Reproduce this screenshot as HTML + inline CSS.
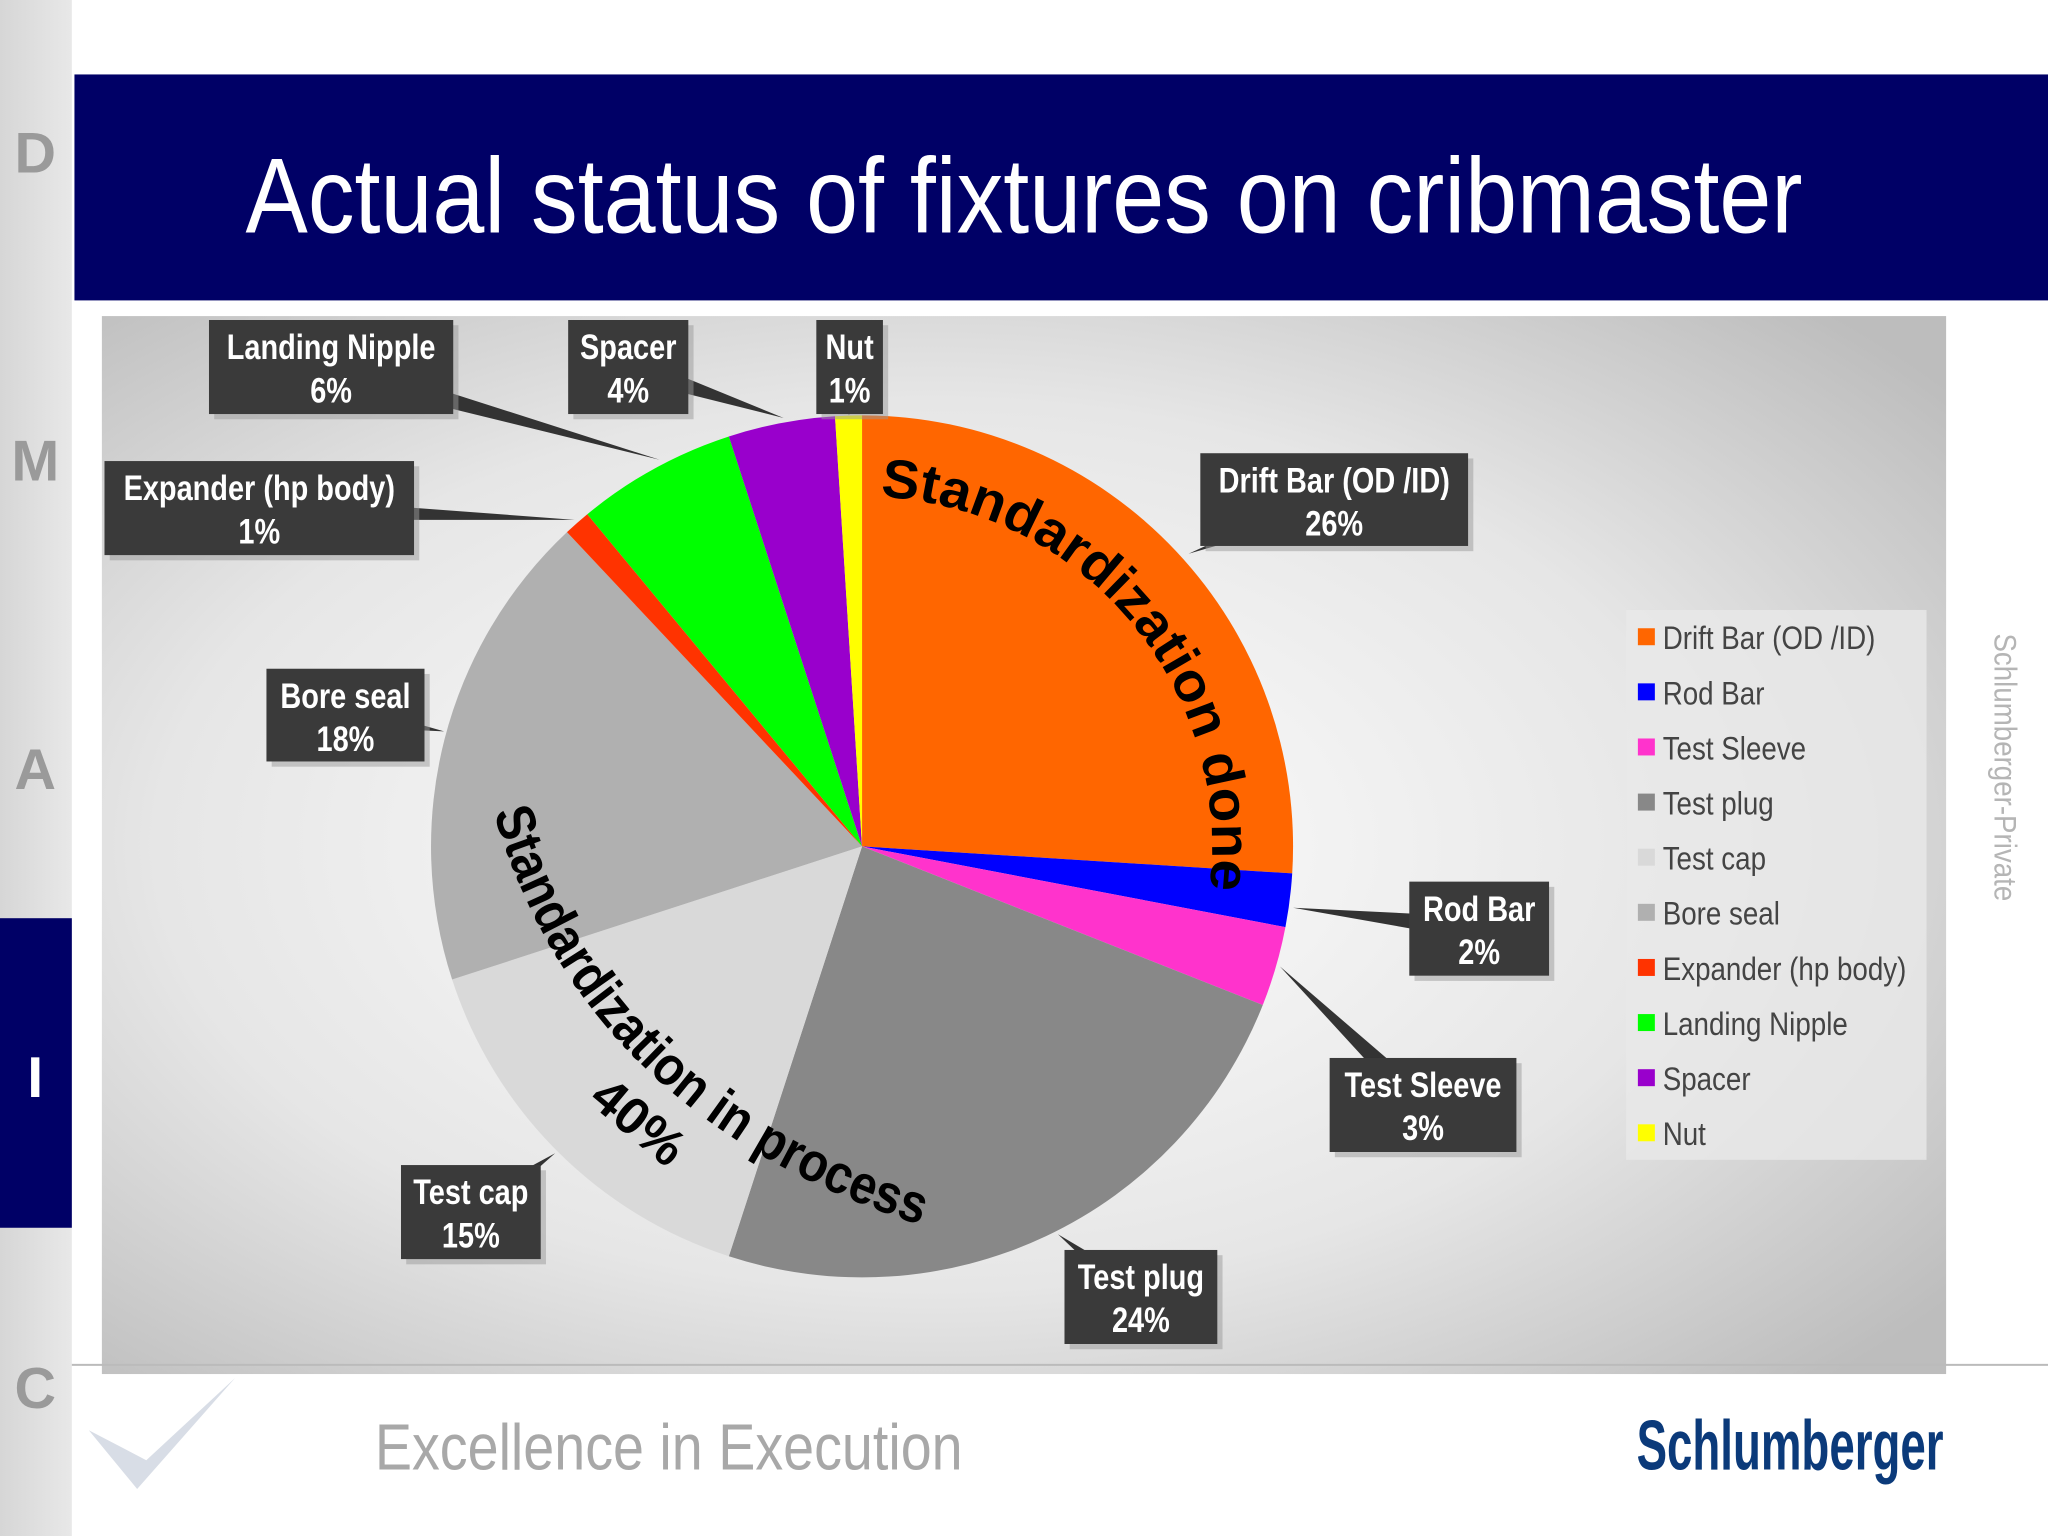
<!DOCTYPE html>
<html><head><meta charset="utf-8"><style>
html,body{margin:0;padding:0;background:#fff;}
svg{display:block;}
text{font-family:"Liberation Sans Narrow","Liberation Sans",sans-serif;}
</style></head><body>
<svg id="chart" width="2048" height="1536" viewBox="0 0 1568 1176" xmlns="http://www.w3.org/2000/svg">
<defs>
<radialGradient id="bg" cx="0.45" cy="0.5" r="0.7">
<stop offset="0" stop-color="#ffffff"/><stop offset="0.6" stop-color="#e6e6e6"/><stop offset="1" stop-color="#bdbdbd"/>
</radialGradient>
<linearGradient id="side" x1="0" x2="1"><stop offset="0" stop-color="#d6d6d6"/><stop offset="1" stop-color="#e8e8e8"/></linearGradient>
</defs>
<rect x="0" y="0" width="1568" height="1176" fill="#fff"/>
<rect x="0" y="0" width="55" height="1176" fill="url(#side)"/>
<rect x="0" y="703" width="55" height="237" fill="#000066"/>
<g font-weight="bold" font-size="44" fill="#9a9a9a" text-anchor="middle">
<text x="27" y="132">D</text><text x="27" y="368">M</text><text x="27" y="604">A</text>
<text x="27" y="840" fill="#fff">I</text><text x="27" y="1078">C</text></g>
<rect x="57" y="57" width="1511" height="173" fill="#000066"/>
<text x="188" y="178" font-size="82" fill="#fff" textLength="1192" lengthAdjust="spacingAndGlyphs">Actual status of fixtures on cribmaster</text>
<rect x="78" y="242" width="1412" height="810" fill="url(#bg)"/>
<g id="pie"></g>
<g id="labels"></g>
<path id="arcDone" d="" fill="none"/>
<path id="arcProc" d="M378,622 C420,765 520,885 728,945" fill="none"/>
<text font-size="42" font-weight="bold" fill="#000" textLength="440" lengthAdjust="spacingAndGlyphs"><textPath href="#arcDone">Standardization done</textPath></text>
<text font-size="42" font-weight="bold" fill="#000" textLength="475" lengthAdjust="spacingAndGlyphs"><textPath href="#arcProc">Standardization in process</textPath></text>
<text x="488" y="872" font-size="40" font-weight="bold" text-anchor="middle" transform="rotate(40 488 860)">40%</text>
<rect x="1245" y="467" width="230" height="421" fill="#e9e9e9" opacity="0.8"/>
<g id="legend"></g>
<text x="0" y="0" font-size="24" fill="#b5b5b5" font-family="Liberation Sans" textLength="205" lengthAdjust="spacingAndGlyphs" transform="translate(1527 485) rotate(90)">Schlumberger-Private</text>
<line x1="55" y1="1045" x2="1568" y2="1045" stroke="#bbb" stroke-width="1.5"/>
<path d="M68 1095 L105 1140 L180 1055 L112 1118 Z" fill="#d8dde6"/>
<text x="287" y="1125" font-size="50" fill="#a8a8a8" textLength="450" lengthAdjust="spacingAndGlyphs">Excellence in Execution</text>
<text x="1253" y="1125" font-size="54" font-weight="bold" fill="#0b3a7a" textLength="235" lengthAdjust="spacingAndGlyphs">Schlumberger</text>
</svg>
<script>
const categories=["Drift Bar (OD /ID)","Rod Bar","Test Sleeve","Test plug","Test cap","Bore seal","Expander (hp body)","Landing Nipple","Spacer","Nut"];
const values=[26,2,3,24,15,18,1,6,4,1];
const colors=["#ff6600","#0000ff","#ff33cc","#888888","#d9d9d9","#b0b0b0","#ff3300","#00ff00","#9900cc","#ffff00"];
const labelText=["Drift Bar (OD /ID)","Rod Bar","Test Sleeve","Test plug","Test cap","Bore seal","Expander (hp body)","Landing Nipple","Spacer","Nut"];
const NS="http://www.w3.org/2000/svg";
const cx=660,cy=648,R=330;
function pt(a,r){return [cx+r*Math.sin(a),cy-r*Math.cos(a)];}
const total=values.reduce((s,v)=>s+v,0);
const pie=document.getElementById('pie');
let acc=0;
values.forEach((v,i)=>{
 const a0=acc/total*2*Math.PI;acc+=v;const a1=acc/total*2*Math.PI;
 const p0=pt(a0,R),p1=pt(a1,R);const large=(a1-a0)>Math.PI?1:0;
 const p=document.createElementNS(NS,'path');
 p.setAttribute('d',`M${cx},${cy} L${p0[0]},${p0[1]} A${R},${R} 0 ${large} 1 ${p1[0]},${p1[1]} Z`);
 p.setAttribute('fill',colors[i]);
 
 
 pie.appendChild(p);
});
(function(){
 const d=Math.PI/180;
 const a=pt(3*d,268),b=pt(100*d,268);
 document.getElementById('arcDone').setAttribute('d',`M${a[0]},${a[1]} A268,268 0 0 1 ${b[0]},${b[1]}`);
})();
const boxes=[[919,347,205,71,910,424],[1079,675,107,72,990,695],[1018,810,143,72,980,740],[815,957,117,72,810,945],[307,892,107,72,425,883],[204,512,121,71,340,560],[80,353,237,72,440,398],[160,245,187,72,505,352],[435,245,92,72,600,320],[625,245,51,72,650,318]];
const lg=document.getElementById('labels');
boxes.forEach((b,i)=>{
 const [x,y,w,h,tx,ty]=b;const mx=x+w/2,my=y+h/2;
 const dx=tx-mx,dy=ty-my;const L=Math.hypot(dx,dy)||1;const nx=-dy/L*9,ny=dx/L*9;
 const leader=document.createElementNS(NS,'polygon');
 leader.setAttribute('points',`${mx+nx},${my+ny} ${mx-nx},${my-ny} ${tx},${ty}`);
 leader.setAttribute('fill','#333');
 
 
 lg.appendChild(leader);
 const sh=document.createElementNS(NS,'rect');
 sh.setAttribute('x',x+4);sh.setAttribute('y',y+4);sh.setAttribute('width',w);sh.setAttribute('height',h);sh.setAttribute('fill','#999');sh.setAttribute('opacity','0.5');
 
 
 lg.appendChild(sh);
 const r=document.createElementNS(NS,'rect');
 r.setAttribute('x',x);r.setAttribute('y',y);r.setAttribute('width',w);r.setAttribute('height',h);r.setAttribute('fill','#3a3a3a');
 
 
 lg.appendChild(r);
 [labelText[i],values[i]+'%'].forEach((s,k)=>{
  const t=document.createElementNS(NS,'text');
  t.setAttribute('x',mx);t.setAttribute('y',y+30+k*33);t.setAttribute('text-anchor','middle');
  t.setAttribute('font-size','27');t.setAttribute('font-weight','bold');t.setAttribute('fill','#fff');
  t.textContent=s;
  
  
  lg.appendChild(t);
  const nat=t.getComputedTextLength();
  const target=Math.min(nat*0.82,w-14);
  t.setAttribute('textLength',target);
  t.setAttribute('lengthAdjust','spacingAndGlyphs');
 });
});
const leg=document.getElementById('legend');
categories.forEach((c,i)=>{
 const y=488+i*42.2;
 const s=document.createElementNS(NS,'rect');
 s.setAttribute('x',1254);s.setAttribute('y',y-7);s.setAttribute('width',13);s.setAttribute('height',13);s.setAttribute('fill',colors[i]);
 
 
 leg.appendChild(s);
 const t=document.createElementNS(NS,'text');
 t.setAttribute('x',1273);t.setAttribute('y',y+9);t.setAttribute('font-size','25');t.setAttribute('fill','#444');
 t.textContent=c;
 
 
 leg.appendChild(t);
 t.setAttribute('textLength',t.getComputedTextLength()*0.85);
 t.setAttribute('lengthAdjust','spacingAndGlyphs');
});
</script>
</body></html>
